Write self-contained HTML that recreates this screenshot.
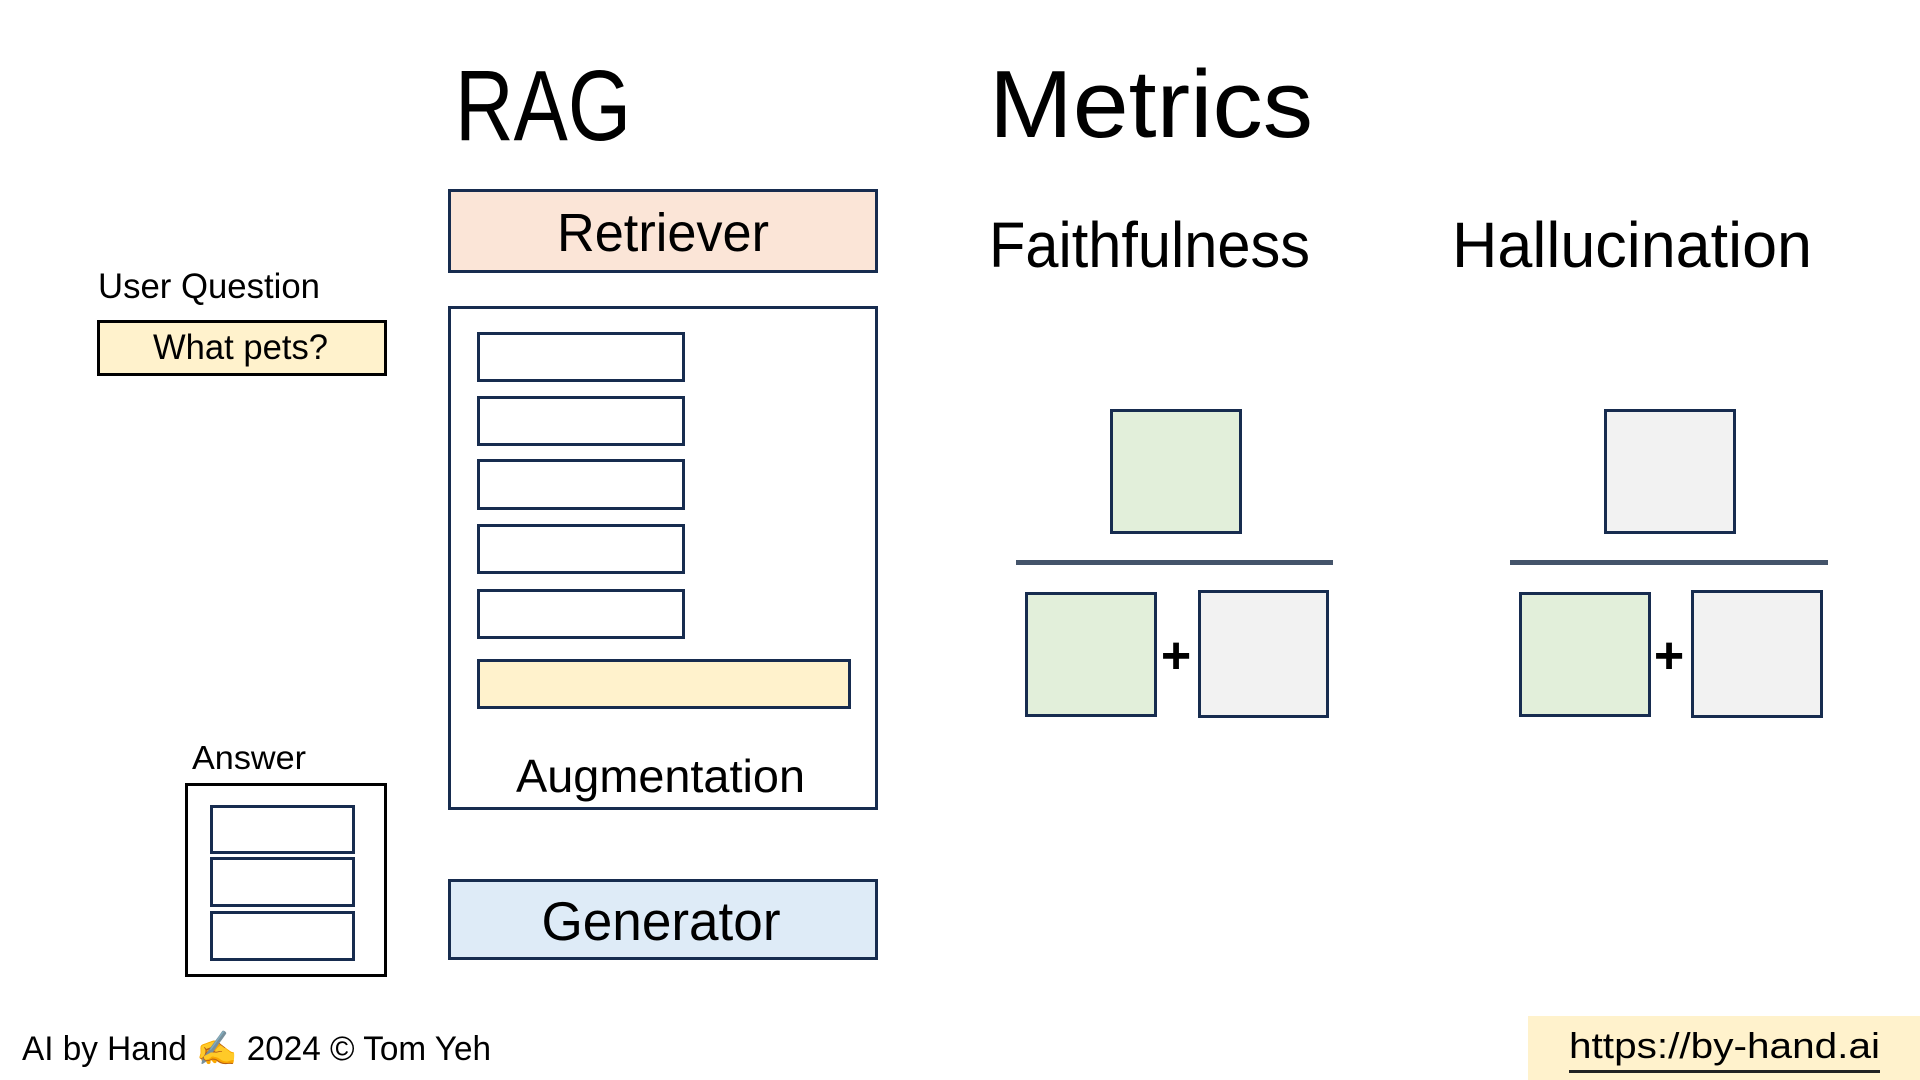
<!DOCTYPE html>
<html><head><meta charset="utf-8"><style>
html,body{margin:0;padding:0;background:#fff;width:1920px;height:1080px;overflow:hidden}
svg{display:block}
.h{font-family:"Liberation Sans",sans-serif;fill:#000}
</style></head><body>
<svg width="1920" height="1080" viewBox="0 0 1920 1080" xmlns="http://www.w3.org/2000/svg">
<g class="h">
<text x="455" y="140" font-size="100" textLength="176" lengthAdjust="spacingAndGlyphs">RAG</text>
<text x="989" y="137" font-size="96" textLength="324" lengthAdjust="spacingAndGlyphs">Metrics</text>
<text x="989" y="267" font-size="64" textLength="321" lengthAdjust="spacingAndGlyphs">Faithfulness</text>
<text x="1452" y="267" font-size="64" textLength="360" lengthAdjust="spacingAndGlyphs">Hallucination</text>
</g>
<g stroke="#172c4f" stroke-width="3">
<rect x="449.5" y="190.5" width="427" height="81" fill="#fbe5d7"/>
<rect x="449.5" y="307.5" width="427" height="501" fill="#fff"/>
<rect x="478.5" y="333.5" width="205" height="47" fill="#fff"/>
<rect x="478.5" y="397.5" width="205" height="47" fill="#fff"/>
<rect x="478.5" y="460.5" width="205" height="48" fill="#fff"/>
<rect x="478.5" y="525.5" width="205" height="47" fill="#fff"/>
<rect x="478.5" y="590.5" width="205" height="47" fill="#fff"/>
<rect x="478.5" y="660.5" width="371" height="47" fill="#fff2cc"/>
<rect x="449.5" y="880.5" width="427" height="78" fill="#deebf7"/>
<rect x="186.5" y="784.5" width="199" height="191" fill="#fff" stroke="#000"/>
<rect x="211.5" y="806.5" width="142" height="46" fill="#fff"/>
<rect x="211.5" y="858.5" width="142" height="47" fill="#fff"/>
<rect x="211.5" y="912.5" width="142" height="47" fill="#fff"/>
<rect x="98.5" y="321.5" width="287" height="53" fill="#fff2cc" stroke="#000"/>
<rect x="1111.5" y="410.5" width="129" height="122" fill="#e2efda"/>
<rect x="1605.5" y="410.5" width="129" height="122" fill="#f2f2f2"/>
<rect x="1026.5" y="593.5" width="129" height="122" fill="#e2efda"/>
<rect x="1199.5" y="591.5" width="128" height="125" fill="#f2f2f2"/>
<rect x="1520.5" y="593.5" width="129" height="122" fill="#e2efda"/>
<rect x="1692.5" y="591.5" width="129" height="125" fill="#f2f2f2"/>
</g>
<rect x="1016" y="560" width="317" height="5" fill="#44546a"/>
<rect x="1510" y="560" width="318" height="5" fill="#44546a"/>
<g class="h">
<text x="663" y="251" font-size="54" text-anchor="middle" textLength="212" lengthAdjust="spacingAndGlyphs">Retriever</text>
<text x="661" y="940" font-size="55" text-anchor="middle" textLength="239" lengthAdjust="spacingAndGlyphs">Generator</text>
<text x="516" y="792" font-size="46" textLength="289" lengthAdjust="spacingAndGlyphs">Augmentation</text>
<text x="98" y="298" font-size="35" textLength="222" lengthAdjust="spacingAndGlyphs">User Question</text>
<text x="153" y="359" font-size="35" textLength="175" lengthAdjust="spacingAndGlyphs">What pets?</text>
<text x="192" y="769" font-size="33" textLength="114" lengthAdjust="spacingAndGlyphs">Answer</text>
<text x="1176" y="673" font-size="52" font-weight="bold" text-anchor="middle">+</text>
<text x="1669" y="673" font-size="52" font-weight="bold" text-anchor="middle">+</text>
<text x="22" y="1060" font-size="34" textLength="469" lengthAdjust="spacingAndGlyphs">AI by Hand ✍ 2024 © Tom Yeh</text>
</g>
<rect x="1528" y="1016" width="392" height="64" fill="#fff2cc"/>
<text class="h" x="1569" y="1058" font-size="36" textLength="311" lengthAdjust="spacingAndGlyphs" fill="#222">https://by-hand.ai</text>
<rect x="1569" y="1070" width="311" height="3" fill="#222"/>
</svg>
</body></html>
